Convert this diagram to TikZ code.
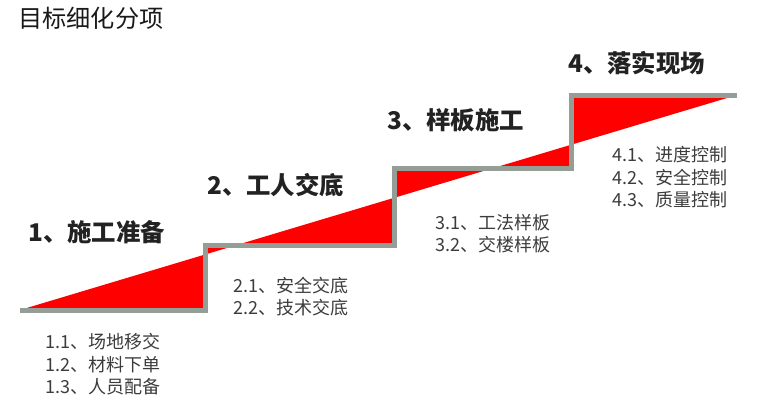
\documentclass[tikz,border=0pt]{standalone}
\usepackage{fontspec}
\newfontfamily\cjk{Noto Sans CJK SC}
\definecolor{stairgray}{RGB}{148,158,150}
\definecolor{headtxt}{RGB}{34,34,34}
\definecolor{subtxt}{RGB}{60,60,60}
\tikzset{
  heading/.style={anchor=west,inner sep=0pt,text=headtxt,font=\cjk\bfseries\fontsize{24.4}{28}\selectfont},
  subitems/.style={anchor=west,inner sep=0pt,text=subtxt,align=left,font=\cjk\fontsize{18}{22.4}\selectfont},
  titletxt/.style={anchor=west,inner sep=0pt,text=black!90,font=\cjk\fontsize{24.2}{28}\selectfont},
  stair/.style={draw=stairgray,line width=5pt,line join=miter,line cap=butt},
  wedge/.style={fill=red}
}
\begin{document}
\begin{tikzpicture}[x=1pt,y=-1pt]
\useasboundingbox (0,0) rectangle (760,418);
% staircase points
\coordinate (p0) at (20,310);
\coordinate (p1) at (205,310);
\coordinate (p2) at (205,245);
\coordinate (p3) at (394,245);
\coordinate (p4) at (394,168.5);
\coordinate (p5) at (571,168.5);
\coordinate (p6) at (571,95);
\coordinate (p7) at (737,95);
% red wedges between stair and diagonal
\fill[wedge] (p0) -- (p1) -- (p2) -- (p3) -- (p4) -- (p5) -- (p6) -- (p7) -- cycle;
\draw[stair] (p0) -- (p1) -- (p2) -- (p3) -- (p4) -- (p5) -- (p6) -- (p7);
% texts
\node[titletxt] (title) at (18,18) {目标细化分项};
\node[heading] (h1) at (28,232) {1、施工准备};
\node[heading] (h2) at (207,185) {2、工人交底};
\node[heading] (h3) at (387,120) {3、样板施工};
\node[heading] (h4) at (568,63) {4、落实现场};
\node[subitems] (s1) at (45,364.5) {1.1、场地移交\\1.2、材料下单\\1.3、人员配备};
\node[subitems] (s2) at (233,296.5) {2.1、安全交底\\2.2、技术交底};
\node[subitems] (s3) at (435,233.5) {3.1、工法样板\\3.2、交楼样板};
\node[subitems] (s4) at (612,177.5) {4.1、进度控制\\4.2、安全控制\\4.3、质量控制};
\end{tikzpicture}
\end{document}
